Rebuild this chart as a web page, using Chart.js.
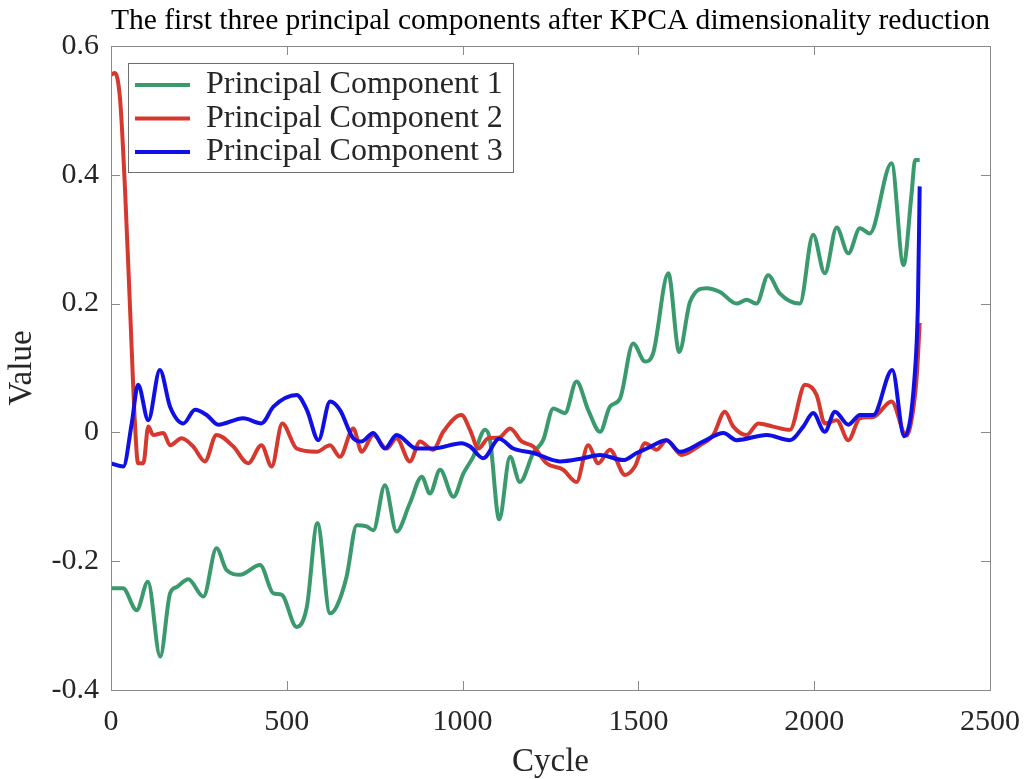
<!DOCTYPE html>
<html>
<head>
<meta charset="utf-8">
<script src="https://cdn.jsdelivr.net/npm/chart.js@4.4.1/dist/chart.umd.min.js"></script>
<style>
  body { margin: 0; background: #fff; }
  #wrap { width: 1025px; height: 779px; }
</style>
</head>
<body>
<div id="wrap"><canvas id="kpcaChart" width="1025" height="779"></canvas></div>
<script>
// ============================== DATA ==============================
const seriesLabels = ['Principal Component 1', 'Principal Component 2', 'Principal Component 3'];

const pc1Cycle = [0, 34, 73, 105, 140, 168, 187, 220, 263, 300, 329, 367, 424, 462, 485, 528, 557, 587, 623, 642,
  670, 699, 727, 746, 779, 812, 850, 884, 907, 936, 974, 1002, 1030, 1064, 1078, 1104, 1135, 1163, 1201, 1229,
  1258, 1291, 1324, 1357, 1391, 1419, 1448, 1485, 1519, 1542, 1585, 1616, 1647, 1694, 1732, 1779, 1808, 1836,
  1869, 1902, 1959, 1997, 2030, 2064, 2097, 2130, 2158, 2220, 2254, 2277, 2287, 2300];
const pc1Value = [-0.242, -0.242, -0.276, -0.232, -0.348, -0.25, -0.24, -0.228, -0.255, -0.18, -0.214, -0.221, -0.206,
  -0.25, -0.252, -0.302, -0.271, -0.141, -0.281, -0.27, -0.224, -0.144, -0.146, -0.152, -0.082, -0.154, -0.11,
  -0.069, -0.095, -0.058, -0.1, -0.064, -0.038, 0.004, -0.012, -0.135, -0.038, -0.077, -0.032, -0.012, 0.037,
  0.03, 0.079, 0.035, 0.001, 0.04, 0.053, 0.138, 0.11, 0.123, 0.247, 0.125, 0.203, 0.224, 0.218, 0.2, 0.206,
  0.2, 0.244, 0.216, 0.2, 0.307, 0.247, 0.318, 0.278, 0.317, 0.309, 0.418, 0.26, 0.371, 0.423, 0.423];

const pc2Cycle = [0, 11, 26, 40, 54, 68, 77, 92, 106, 120, 149, 168, 201, 234, 267, 300, 348, 390, 428, 457, 487,
  528, 585, 623, 651, 689, 713, 746, 784, 812, 850, 879, 916, 945, 997, 1021, 1045, 1073, 1104, 1135, 1168, 1201,
  1239, 1286, 1324, 1357, 1386, 1419, 1462, 1490, 1519, 1552, 1580, 1623, 1675, 1713, 1746, 1770, 1808, 1841,
  1883, 1931, 1974, 2007, 2030, 2064, 2097, 2130, 2168, 2220, 2262, 2280, 2292, 2300];
const pc2Value = [0.555, 0.558, 0.516, 0.376, 0.195, 0.015, -0.048, -0.048, 0.009, -0.004, -0.001, -0.02, -0.009,
  -0.022, -0.045, -0.004, -0.022, -0.048, -0.02, -0.053, 0.014, -0.025, -0.03, -0.02, -0.038, 0.006, -0.03,
  -0.004, -0.025, -0.009, -0.045, -0.014, -0.027, 0.001, 0.027, 0.004, -0.025, -0.009, -0.008, 0.006, -0.014,
  -0.022, -0.048, -0.058, -0.077, -0.02, -0.048, -0.027, -0.066, -0.053, -0.017, -0.027, -0.012, -0.035, -0.02,
  -0.004, 0.032, 0.009, -0.004, 0.014, 0.009, 0.004, 0.074, 0.058, 0.014, 0.019, -0.012, 0.022, 0.024, 0.048,
  -0.005, 0.03, 0.09, 0.17];

const pc3Cycle = [0, 35, 59, 77, 106, 139, 168, 206, 239, 272, 305, 376, 428, 462, 528, 557, 590, 623, 651, 689,
  713, 746, 779, 812, 869, 916, 997, 1021, 1059, 1104, 1144, 1201, 1277, 1343, 1391, 1457, 1495, 1524, 1580,
  1618, 1685, 1742, 1779, 1865, 1931, 1969, 1997, 2030, 2059, 2097, 2130, 2168, 2222, 2256, 2286, 2295, 2300];
const pc3Value = [-0.048, -0.053, 0.014, 0.074, 0.019, 0.097, 0.04, 0.014, 0.035, 0.027, 0.012, 0.022, 0.014, 0.04,
  0.058, 0.035, -0.012, 0.048, 0.035, -0.009, -0.014, -0.001, -0.025, -0.004, -0.025, -0.025, -0.017, -0.022,
  -0.04, -0.01, -0.025, -0.032, -0.045, -0.04, -0.035, -0.043, -0.032, -0.025, -0.012, -0.03, -0.014, -0.001,
  -0.012, -0.004, -0.012, 0.009, 0.03, 0.001, 0.032, 0.012, 0.027, 0.027, 0.097, -0.006, 0.09, 0.2, 0.382];

const xTicks = [0, 500, 1000, 1500, 2000, 2500];
const yTicks = [-0.4, -0.2, 0, 0.2, 0.4, 0.6];

// ============================== HELPERS ==============================
const serif = "'Liberation Serif', 'Times New Roman', serif";
const textColor = '#262626';

function toPoints(cycles, values) {
    return cycles.map((c, i) => ({ x: c, y: values[i] }));
}

function makeSeries(label, cycles, values, color, order) {
    return {
        label: label,
        data: toPoints(cycles, values),
        borderColor: color,
        backgroundColor: color,
        borderWidth: 4,
        pointRadius: 0,
        fill: false,
        cubicInterpolationMode: 'monotone',
        order: order
    };
}

// MATLAB-like box with inward ticks + legend frame
const axesBox = {
    id: 'axesBox',
    afterLayout(chart) {
        const a = chart.chartArea;
        chart.legend.left = a.left + 22.5;
        chart.legend.top = a.top + 21.5;
    },
    afterDraw(chart) {
        const { ctx, chartArea: a, scales: { x, y } } = chart;
        ctx.save();
        ctx.strokeStyle = '#8a8a8a';
        ctx.lineWidth = 1;
        ctx.strokeRect(a.left + 0.5, a.top + 0.5, a.width, a.height);
        ctx.beginPath();
        xTicks.forEach(v => {
            const px = Math.round(x.getPixelForValue(v)) + 0.5;
            ctx.moveTo(px, a.bottom); ctx.lineTo(px, a.bottom - 9);
            ctx.moveTo(px, a.top); ctx.lineTo(px, a.top + 9);
        });
        yTicks.forEach(v => {
            const py = Math.round(y.getPixelForValue(v)) + 0.5;
            ctx.moveTo(a.left, py); ctx.lineTo(a.left + 9, py);
            ctx.moveTo(a.right, py); ctx.lineTo(a.right - 9, py);
        });
        ctx.stroke();

        // legend frame
        const lg = chart.legend;
        const pad = lg.options.labels.padding;
        const fontSize = lg.options.labels.font.size;
        ctx.font = fontSize + 'px ' + serif;
        const textW = Math.max(...seriesLabels.map(t => ctx.measureText(t).width));
        const boxL = lg.left + pad - 7;
        const boxT = lg.top + pad - 6;
        const boxR = lg.left + pad + lg.options.labels.pointStyleWidth + fontSize / 2 + textW + 10;
        const boxB = lg.top + pad + 3 * fontSize + 2 * pad + 4;
        ctx.strokeStyle = '#6e6e6e';
        ctx.strokeRect(Math.round(boxL) + 0.5, Math.round(boxT) + 0.5, Math.round(boxR - boxL), Math.round(boxB - boxT));
        ctx.restore();
    }
};

// ============================== CHART ==============================
const ctx = document.getElementById('kpcaChart').getContext('2d');
new Chart(ctx, {
    type: 'line',
    data: {
        datasets: [
            makeSeries(seriesLabels[0], pc1Cycle, pc1Value, '#3a9a6e', 3),
            makeSeries(seriesLabels[1], pc2Cycle, pc2Value, '#d7382e', 2),
            makeSeries(seriesLabels[2], pc3Cycle, pc3Value, '#1010e6', 1)
        ]
    },
    options: {
        responsive: false,
        animation: false,
        devicePixelRatio: 1,
        layout: { padding: { left: 0, right: 35, top: 0, bottom: 0 } },
        plugins: {
            title: {
                display: true,
                fullSize: false,
                text: 'The first three principal components after KPCA dimensionality reduction',
                color: '#000',
                font: { family: serif, size: 30, weight: 'normal', lineHeight: 1.1 },
                padding: { top: 5, bottom: 8 }
            },
            legend: {
                position: 'chartArea',
                align: 'start',
                labels: {
                    usePointStyle: true,
                    pointStyle: 'line',
                    pointStyleWidth: 55,
                    boxWidth: 55,
                    padding: 1.5,
                    color: textColor,
                    font: { family: serif, size: 32 },
                    sort: (a, b) => a.datasetIndex - b.datasetIndex
                }
            },
            tooltip: { enabled: false }
        },
        scales: {
            x: {
                type: 'linear',
                min: 0,
                max: 2500,
                afterBuildTicks: s => { s.ticks = xTicks.map(v => ({ value: v })); },
                afterFit: s => { s.height = 89; s.paddingLeft = 0; s.paddingRight = 0; },
                grid: { display: false, drawTicks: false },
                border: { display: false },
                ticks: {
                    padding: 14,
                    color: textColor,
                    font: { family: serif, size: 30 },
                    maxRotation: 0,
                    callback: v => String(v)
                },
                title: {
                    display: true,
                    text: 'Cycle',
                    color: textColor,
                    font: { family: serif, size: 33, lineHeight: 1 },
                    padding: { top: 0, bottom: 0 }
                }
            },
            y: {
                type: 'linear',
                min: -0.4,
                max: 0.6,
                afterBuildTicks: s => { s.ticks = yTicks.map(v => ({ value: v })); },
                afterFit: s => { s.width = 111; },
                grid: { display: false, drawTicks: false },
                border: { display: false },
                ticks: {
                    padding: 12,
                    color: textColor,
                    font: { family: serif, size: 30 },
                    callback: v => String(+v.toFixed(1))
                },
                title: {
                    display: true,
                    text: 'Value',
                    color: textColor,
                    font: { family: serif, size: 33, lineHeight: 1 },
                    padding: { top: 6, bottom: 0 }
                }
            }
        }
    },
    plugins: [axesBox]
});
</script>
</body>
</html>
